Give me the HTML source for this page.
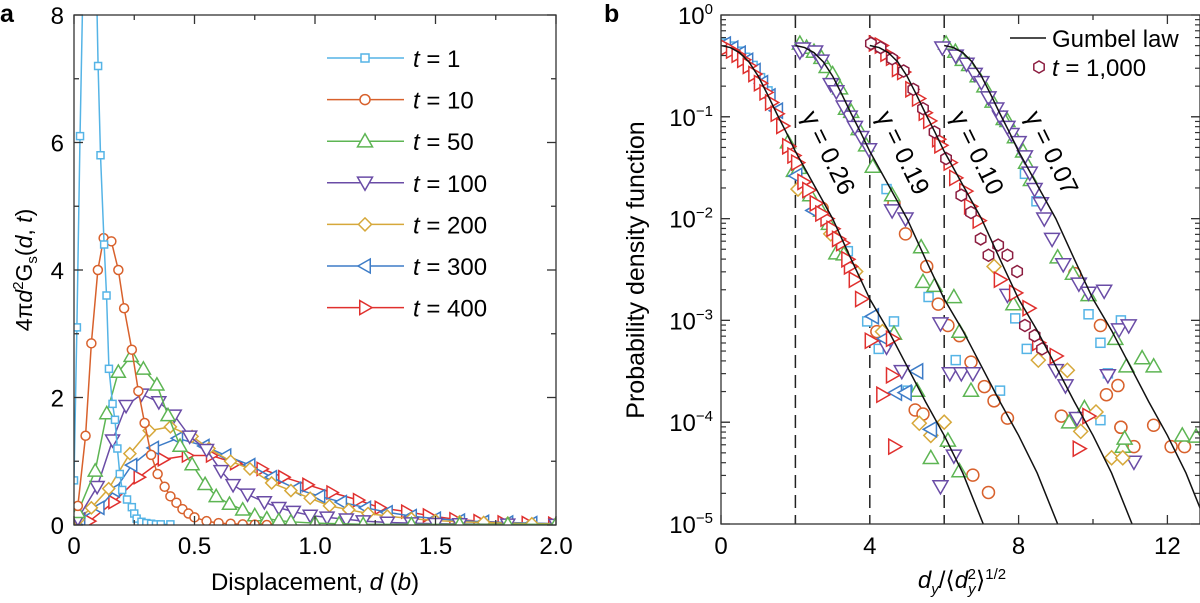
<!DOCTYPE html>
<html><head><meta charset="utf-8"><style>
html,body{margin:0;padding:0;background:#fff;}
svg{display:block;font-family:"Liberation Sans",sans-serif;}
</style></head><body>
<svg id="fig" width="1200" height="603" viewBox="0 0 1200 603" xmlns="http://www.w3.org/2000/svg">
<defs>
<clipPath id="clipA"><rect x="74" y="15" width="482" height="510"/></clipPath>
<clipPath id="clipB"><rect x="721" y="15" width="479" height="509"/></clipPath>
</defs>
<text x="0" y="22" font-size="25" font-weight="bold">a</text>
<text x="604" y="22" font-size="25" font-weight="bold">b</text>
<g id="panelA"></g>
<g id="panelB"></g>
<text transform="translate(32,270) rotate(-90)" text-anchor="middle" font-size="23">4π<tspan font-style="italic">d</tspan><tspan font-size="15" dy="-9">2</tspan><tspan dy="9">G</tspan><tspan font-size="15" dy="5">s</tspan><tspan dy="-5">(</tspan><tspan font-style="italic">d</tspan>, <tspan font-style="italic">t</tspan>)</text>
<text x="315" y="590" text-anchor="middle" font-size="24">Displacement, <tspan font-style="italic">d</tspan> (<tspan font-style="italic">b</tspan>)</text>
<text transform="translate(644,270) rotate(-90)" text-anchor="middle" font-size="25">Probability density function</text>
<text x="962" y="588" text-anchor="middle" font-size="24"><tspan font-style="italic">d</tspan><tspan font-style="italic" font-size="15" dy="6">y</tspan><tspan dy="-6">/⟨</tspan><tspan font-style="italic">d</tspan><tspan font-style="italic" font-size="15" dy="6">y</tspan><tspan font-size="15" dx="-8" dy="-15">2</tspan><tspan dy="9">⟩</tspan><tspan font-size="15" dy="-9">1/2</tspan></text>
</svg>
<script>
// ---------- Panel a data ----------
const aT1x=[0,0.012,0.025,0.05,0.075,0.1,0.11,0.125,0.135,0.145,0.16,0.17,0.18,0.19,0.2,0.22,0.24,0.25,0.26,0.28,0.3,0.32,0.34,0.36,0.4];
const aT1y=[0.7,3.1,6.1,11,12,7.2,5.8,4.4,3.6,2.45,1.9,1.65,1.2,0.8,0.55,0.4,0.28,0.18,0.1,0.05,0.03,0.02,0.01,0.01,0.01];
const aT10x=[0.016,0.048,0.072,0.099,0.123,0.155,0.184,0.208,0.24,0.267,0.293,0.32,0.347,0.376,0.4,0.425,0.45,0.475,0.5,0.55,0.6,0.65,0.7,0.75,0.8];
const aT10y=[0.3,1.4,2.85,4.0,4.5,4.45,4.0,3.4,2.75,2.1,1.6,1.1,0.8,0.6,0.45,0.35,0.25,0.18,0.12,0.06,0.03,0.02,0.01,0.005,0];
const aT50x=[0.016,0.088,0.136,0.184,0.237,0.288,0.344,0.39,0.44,0.49,0.544,0.59,0.645,0.7,0.75,0.8,0.85,0.9,1.0,1.1,1.2,1.4,1.6,1.8,2.0];
const aT50y=[0.2,0.85,1.75,2.4,2.65,2.45,2.2,1.72,1.24,0.95,0.64,0.45,0.33,0.24,0.15,0.1,0.07,0.05,0.03,0.02,0.01,0.01,0.01,0.01,0.01];
const aT100x=[0.016,0.096,0.16,0.216,0.28,0.352,0.416,0.48,0.55,0.61,0.66,0.72,0.79,0.85,0.91,0.98,1.05,1.13,1.2,1.3,1.4,1.5,1.6,1.8,2.0];
const aT100y=[0.1,0.6,1.33,1.87,2.05,1.93,1.72,1.39,1.18,0.85,0.63,0.48,0.36,0.27,0.21,0.15,0.12,0.09,0.06,0.04,0.03,0.02,0.015,0.01,0.005];
const aT200x=[0.016,0.072,0.144,0.232,0.312,0.4,0.49,0.56,0.65,0.73,0.82,0.9,0.98,1.06,1.14,1.22,1.3,1.4,1.5,1.6,1.7,1.8,1.9,2.0];
const aT200y=[0.08,0.27,0.57,1.12,1.48,1.54,1.39,1.2,1.0,0.88,0.66,0.54,0.42,0.3,0.24,0.18,0.14,0.1,0.07,0.05,0.04,0.03,0.02,0.02];
const aT300x=[0.024,0.104,0.168,0.24,0.33,0.43,0.54,0.63,0.73,0.82,0.92,1.02,1.11,1.21,1.3,1.4,1.5,1.6,1.7,1.8,1.9,2.0];
const aT300y=[0.09,0.27,0.54,0.94,1.21,1.36,1.24,1.09,0.94,0.75,0.57,0.45,0.36,0.27,0.2,0.14,0.1,0.07,0.05,0.04,0.03,0.02];
const aT400x=[0.064,0.165,0.27,0.37,0.47,0.57,0.67,0.78,0.87,0.97,1.07,1.18,1.27,1.38,1.47,1.58,1.68,1.78,1.88,1.99];
const aT400y=[0.06,0.36,0.75,1.03,1.09,1.09,0.97,0.88,0.75,0.63,0.51,0.39,0.27,0.21,0.15,0.09,0.06,0.04,0.03,0.02];
const aLegend=["t = 1","t = 10","t = 50","t = 100","t = 200","t = 300","t = 400"];
const aXTicks=[0,0.5,1.0,1.5,2.0];
const aXTickLabels=["0","0.5","1.0","1.5","2.0"];
const aYTicks=[0,2,4,6,8];

// ---------- Panel b data ----------
const bCurveX=[0,0.25,0.5,0.75,1,1.25,1.5,1.75,2,2.5,3,3.5,4,4.5,5,5.5,6,6.5,7.05];
const bCurveLogY=[-0.3,-0.32,-0.37,-0.46,-0.6,-0.78,-0.97,-1.15,-1.34,-1.67,-2.0,-2.4,-2.79,-3.1,-3.45,-3.8,-4.13,-4.5,-5];
const bShifts=[0,2,4,6];
const bGammaLabels=["γ = 0.26","γ = 0.19","γ = 0.10","γ = 0.07"];
const bDashX=[2,4,6];
const bXTicks=[0,4,8,12];
const bYDecades=[0,-1,-2,-3,-4,-5];

const bT1x=[0.05,0.25,0.45,0.65,0.85,1.05,1.25,3.41,3.93,4.65,4.24,5.02,4.45,5.58,6.31,7.5,7.91,8.22,10.2,8.17,8.48,9.88,10.2,10.75,10.4];
const bT1y=[-0.28,-0.31,-0.36,-0.42,-0.5,-0.62,-0.75,-2.32,-3.01,-3.01,-3.28,-3.69,-1.71,-2.77,-3.39,-3.69,-2.98,-3.28,-3.98,-1.56,-1.83,-2.94,-3.22,-3.0,-3.52];
const bT10x=[2.72,3.26,4.19,5.22,5.43,6.77,7.19,4.65,4.96,5.53,5.84,6.1,6.41,6.72,7.08,7.34,7.7,9.15,10.75,11.1,9.51,10.2,10.36,10.67,10.75,11.63,12.1,12.46];
const bT10y=[-1.9,-2.34,-3.11,-3.88,-3.92,-4.52,-4.69,-1.85,-2.15,-2.47,-2.84,-3.05,-3.15,-3.41,-3.65,-3.79,-3.96,-3.94,-4.05,-4.24,-2.54,-3.05,-3.73,-3.64,-4.05,-4.03,-4.24,-4.24];
const bT50x=[1.96,2.69,3.1,4.65,5.27,5.64,6.1,6.41,2.12,2.84,3.36,4.08,4.6,5.38,5.43,5.74,6.26,6.41,6.72,7.86,9.36,9.77,10.8,6.05,6.67,7.08,7.7,8.12,8.33,9.05,9.46,9.88,10.6,10.9,11.32,11.63,10.85,12.4,12.77,2.3,2.5,2.7,3.0,3.2,3.5,3.7,3.9,1.8,2.1,2.4,2.9,3.3,6.3,6.5,6.9,7.3,7.6,7.9,8.2];
const bT50y=[-1.53,-1.92,-2.34,-3.13,-3.69,-4.35,-4.18,-4.48,-0.28,-0.51,-0.92,-1.49,-1.77,-2.28,-2.62,-2.66,-2.77,-3.11,-3.69,-2.84,-4.0,-3.86,-4.24,-0.28,-0.49,-0.7,-1.04,-1.34,-1.62,-2.38,-2.54,-2.75,-3.18,-3.45,-3.37,-3.45,-4.16,-4.13,-4.14,-0.32,-0.36,-0.42,-0.58,-0.72,-0.95,-1.12,-1.28,-1.25,-1.5,-1.77,-2.05,-2.35,-0.36,-0.44,-0.6,-0.85,-1.02,-1.2,-1.45];
const bT100x=[4.45,4.86,5.9,6.26,2.12,2.53,2.95,3.46,3.77,3.98,4.6,4.96,5.9,6.15,6.46,6.77,7.7,9.0,9.26,9.57,11.1,5.95,6.31,6.82,7.19,7.5,7.81,8.17,8.43,8.69,9.2,9.62,9.88,10.3,10.7,10.96,10.4,2.2,2.7,3.1,3.3,3.6,6.6,7.0,7.4,7.7,8.0,8.3,8.6,8.9];
const bT100y=[-3.26,-3.5,-4.63,-4.33,-0.36,-0.36,-0.68,-1.0,-1.2,-1.32,-1.92,-2.0,-3.03,-3.52,-3.52,-3.52,-2.75,-3.49,-3.64,-3.96,-4.39,-0.32,-0.4,-0.58,-0.81,-1.0,-1.17,-1.39,-1.71,-2.0,-2.45,-2.64,-2.73,-2.71,-3.09,-3.05,-3.54,-0.33,-0.45,-0.75,-0.9,-1.1,-0.48,-0.66,-0.92,-1.1,-1.25,-1.55,-1.85,-2.2];
const bT200x=[2.07,2.95,3.62,4.34,5.33,5.64,6.0,7.34,8.53,9.31,9.67,10.08,10.5,10.8];
const bT200y=[-1.71,-2.15,-2.52,-3.11,-4.01,-4.13,-4.0,-2.47,-3.39,-3.49,-4.09,-3.9,-4.35,-4.35];
const bT300x=[0.1,0.3,0.5,0.7,0.9,1.1,1.3,1.5,2.02,2.48,4.08,4.4,5.27,4.7,4.96,5.64];
const bT300y=[-0.29,-0.33,-0.38,-0.45,-0.55,-0.67,-0.8,-0.94,-1.58,-1.92,-2.96,-3.18,-3.5,-3.71,-3.71,-4.07];
const bT400x=[0,0.15,0.3,0.45,0.6,0.75,0.9,1.05,1.2,1.35,1.5,1.65,1.81,2.22,2.84,3.26,3.47,3.77,4.03,4.6,4.6,4.34,4.66,4.14,4.45,4.76,5.12,5.48,5.84,6.15,6.57,6.93,7.5,7.91,8.27,8.53,9.0,9.88,9.62,1.95,2.05,2.35,2.55,2.7,3.0,3.15,3.4,3.6,4.3,4.6,4.9,5.3,5.6,5.9,6.3,6.7];
const bT400y=[-0.3,-0.32,-0.35,-0.39,-0.44,-0.5,-0.58,-0.67,-0.76,-0.86,-0.97,-1.09,-1.29,-1.64,-2.0,-2.24,-2.47,-2.79,-3.2,-3.18,-3.54,-3.73,-4.24,-0.28,-0.38,-0.53,-0.73,-0.96,-1.22,-1.45,-1.73,-2.02,-2.6,-2.73,-2.88,-3.22,-3.35,-3.94,-4.26,-1.38,-1.45,-1.72,-1.85,-1.95,-2.1,-2.2,-2.4,-2.6,-0.3,-0.42,-0.56,-0.82,-1.04,-1.28,-1.6,-1.88];
const bT1000x=[4.03,4.29,4.6,4.91,5.17,5.43,5.74,6.05,6.46,6.72,6.98,7.19,7.45,7.7,7.96,8.17,8.43,8.63];
const bT1000y=[-0.28,-0.32,-0.43,-0.55,-0.73,-0.92,-1.15,-1.41,-1.77,-1.94,-2.2,-2.36,-2.26,-2.36,-2.52,-3.05,-3.15,-3.28];

const NS="http://www.w3.org/2000/svg";
function mk(tag,attrs,parent){const e=document.createElementNS(NS,tag);for(const k in attrs)e.setAttribute(k,attrs[k]);parent.appendChild(e);return e;}
const C={t1:"#55b4e6",t10:"#d8612c",t50:"#5db553",t100:"#6a4ca6",t200:"#d6a83a",t300:"#3d7cc7",t400:"#e0302e",t1000:"#8c1d40"};
function marker(parent,type,x,y,s,color){
  let e;
  if(type==="sq"){e=mk("rect",{x:x-s/2,y:y-s/2,width:s,height:s},parent);}
  else if(type==="ci"){e=mk("circle",{cx:x,cy:y,r:s/2},parent);}
  else{
    let pts;const h=s/2;
    if(type==="up")pts=[[x,y-h],[x+h,y+h*0.75],[x-h,y+h*0.75]];
    else if(type==="dn")pts=[[x,y+h],[x+h,y-h*0.75],[x-h,y-h*0.75]];
    else if(type==="lt")pts=[[x-h,y],[x+h*0.75,y-h],[x+h*0.75,y+h]];
    else if(type==="rt")pts=[[x+h,y],[x-h*0.75,y-h],[x-h*0.75,y+h]];
    else if(type==="di")pts=[[x,y-h],[x+h,y],[x,y+h],[x-h,y]];
    else if(type==="hx"){pts=[];for(let i=0;i<6;i++){const a=Math.PI/3*i+Math.PI/6;pts.push([x+h*Math.cos(a),y+h*Math.sin(a)]);}}
    e=mk("polygon",{points:pts.map(p=>p.join(",")).join(" ")},parent);
  }
  e.setAttribute("fill","#fff");e.setAttribute("stroke",color);e.setAttribute("stroke-width","1.5");
  return e;
}

// ---------- Panel a ----------
const A=document.getElementById("panelA");
const ax=d=>74+d*241, ay=v=>525-v*63.75;
const aSeries=[[aT1x,aT1y,"sq",C.t1,7],[aT10x,aT10y,"ci",C.t10,9],[aT50x,aT50y,"up",C.t50,14],[aT100x,aT100y,"dn",C.t100,14],[aT200x,aT200y,"di",C.t200,12],[aT300x,aT300y,"lt",C.t300,13],[aT400x,aT400y,"rt",C.t400,13]];
const aClip=mk("g",{"clip-path":"url(#clipA)"},A);


aSeries.slice().reverse().forEach((s,ri)=>{
  const i=aSeries.length-1-ri;
  const g=mk("g",{},aClip);
  
  
  mk("polyline",{points:s[0].map((d,k)=>ax(d)+","+ay(s[1][k])).join(" "),fill:"none",stroke:s[3],"stroke-width":"1.5"},g);
  s[0].forEach((d,k)=>{const m=marker(g,s[2],ax(d),ay(s[1][k]),s[4],s[3]);
    
    });
});
const aFrame=mk("rect",{x:74,y:15,width:482,height:510,fill:"none",stroke:"#333","stroke-width":"1.3"},A);


for(let v=0;v<=8;v+=1){const y=ay(v),L=v%2===0?9:5;
  mk("line",{x1:74,y1:y,x2:74+L,y2:y,stroke:"#333","stroke-width":"1.3"},A);
  mk("line",{x1:556,y1:y,x2:556-L,y2:y,stroke:"#333","stroke-width":"1.3"},A);}
aYTicks.forEach(v=>{const t=mk("text",{x:64,y:ay(v)+9,"text-anchor":"end","font-size":"24"},A);t.textContent=v;
  
  });
for(let d=0;d<=2.001;d+=0.25){const x=ax(d),L=(Math.round(d*4)%2===0)?9:5;
  mk("line",{x1:x,y1:525,x2:x,y2:525-L,stroke:"#333","stroke-width":"1.3"},A);
  mk("line",{x1:x,y1:15,x2:x,y2:15+L,stroke:"#333","stroke-width":"1.3"},A);}
aXTicks.forEach((d,i)=>{const t=mk("text",{x:ax(d),y:554,"text-anchor":"middle","font-size":"24"},A);t.textContent=aXTickLabels[i];
  
  });
aSeries.forEach((s,i)=>{const y=58+i*41.6;const g=mk("g",{},A);
  
  
  mk("line",{x1:327,y1:y,x2:404,y2:y,stroke:s[3],"stroke-width":"1.5"},g);
  marker(g,s[2],365,y,s[4]+1,s[3]);
  const t=mk("text",{x:413,y:y+9,"font-size":"24"},g);
  const parts=aLegend[i].split(" = ");
  const it=mk("tspan",{"font-style":"italic"},t);it.textContent=parts[0];
  const rs=mk("tspan",{},t);rs.textContent=" = "+parts[1];});

// ---------- Panel b ----------
const B=document.getElementById("panelB");
const bx=x=>721+x*37.2, by=ly=>15-ly*101.8;
const bClip=mk("g",{"clip-path":"url(#clipB)"},B);


bDashX.forEach(x=>{const l=mk("line",{x1:bx(x),y1:15,x2:bx(x),y2:524,stroke:"#222","stroke-width":"1.5","stroke-dasharray":"13,7"},bClip);
  
  });
const bSeries=[[bT1x,bT1y,"sq",C.t1,9],[bT10x,bT10y,"ci",C.t10,12],[bT50x,bT50y,"up",C.t50,15],[bT100x,bT100y,"dn",C.t100,15],[bT200x,bT200y,"di",C.t200,14],[bT300x,bT300y,"lt",C.t300,15],[bT400x,bT400y,"rt",C.t400,15],[bT1000x,bT1000y,"hx",C.t1000,12]];
const bNames=["t-1","t-10","t-50","t-100","t-200","t-300","t-400","t-1000"];
bSeries.forEach((s,i)=>{const g=mk("g",{},bClip);
  
  
  s[0].forEach((x,k)=>{const m=marker(g,s[2],bx(x),by(s[1][k]),s[4],s[3]);
    
    });});
bShifts.forEach((sh,i)=>{const p=mk("polyline",{points:bCurveX.map((x,k)=>bx(x+sh)+","+by(bCurveLogY[k])).join(" "),fill:"none",stroke:"#111","stroke-width":"1.5"},bClip);
  
  
  const t=mk("text",{transform:"translate("+(bx(sh+2)+6)+",116) rotate(64)","font-size":"25"},B);t.textContent=bGammaLabels[i];
  
  });
const bFrame=mk("rect",{x:721,y:15,width:479,height:509,fill:"none",stroke:"#333","stroke-width":"1.3"},B);


for(let dec=0;dec>-5;dec--){for(let m=1;m<=10;m++){const y=by(dec-1+Math.log10(m)),L=(m===1||m===10)?9:5;
  mk("line",{x1:721,y1:y,x2:721+L,y2:y,stroke:"#333","stroke-width":"1.2"},B);
  mk("line",{x1:1200,y1:y,x2:1200-L,y2:y,stroke:"#333","stroke-width":"1.2"},B);}}
bYDecades.forEach(d=>{const t=mk("text",{x:713,y:by(d)+9,"text-anchor":"end","font-size":"24"},B);
  const a=mk("tspan",{},t);a.textContent="10";
  const b=mk("tspan",{"font-size":"15",dy:"-10"},t);b.textContent=d===0?"0":"−"+(-d);
  
  });
for(let x=0;x<=12;x+=2){const L=x%4===0?9:5;
  mk("line",{x1:bx(x),y1:524,x2:bx(x),y2:524-L,stroke:"#333","stroke-width":"1.3"},B);
  mk("line",{x1:bx(x),y1:15,x2:bx(x),y2:15+L,stroke:"#333","stroke-width":"1.3"},B);}
bXTicks.forEach(x=>{const t=mk("text",{x:bx(x),y:554,"text-anchor":"middle","font-size":"24"},B);t.textContent=x;
  
  });
const lg1=mk("g",{},B);


mk("line",{x1:1010,y1:38,x2:1046,y2:38,stroke:"#111","stroke-width":"1.5"},lg1);
const lt1=mk("text",{x:1052,y:47,"font-size":"24"},lg1);lt1.textContent="Gumbel law";
const lg2=mk("g",{},B);


marker(lg2,"hx",1039,67,12,C.t1000);
const lt2=mk("text",{x:1052,y:76,"font-size":"24"},lg2);
const li=mk("tspan",{"font-style":"italic"},lt2);li.textContent="t";
const lr=mk("tspan",{},lt2);lr.textContent=" = 1,000";
</script>
</body></html>
